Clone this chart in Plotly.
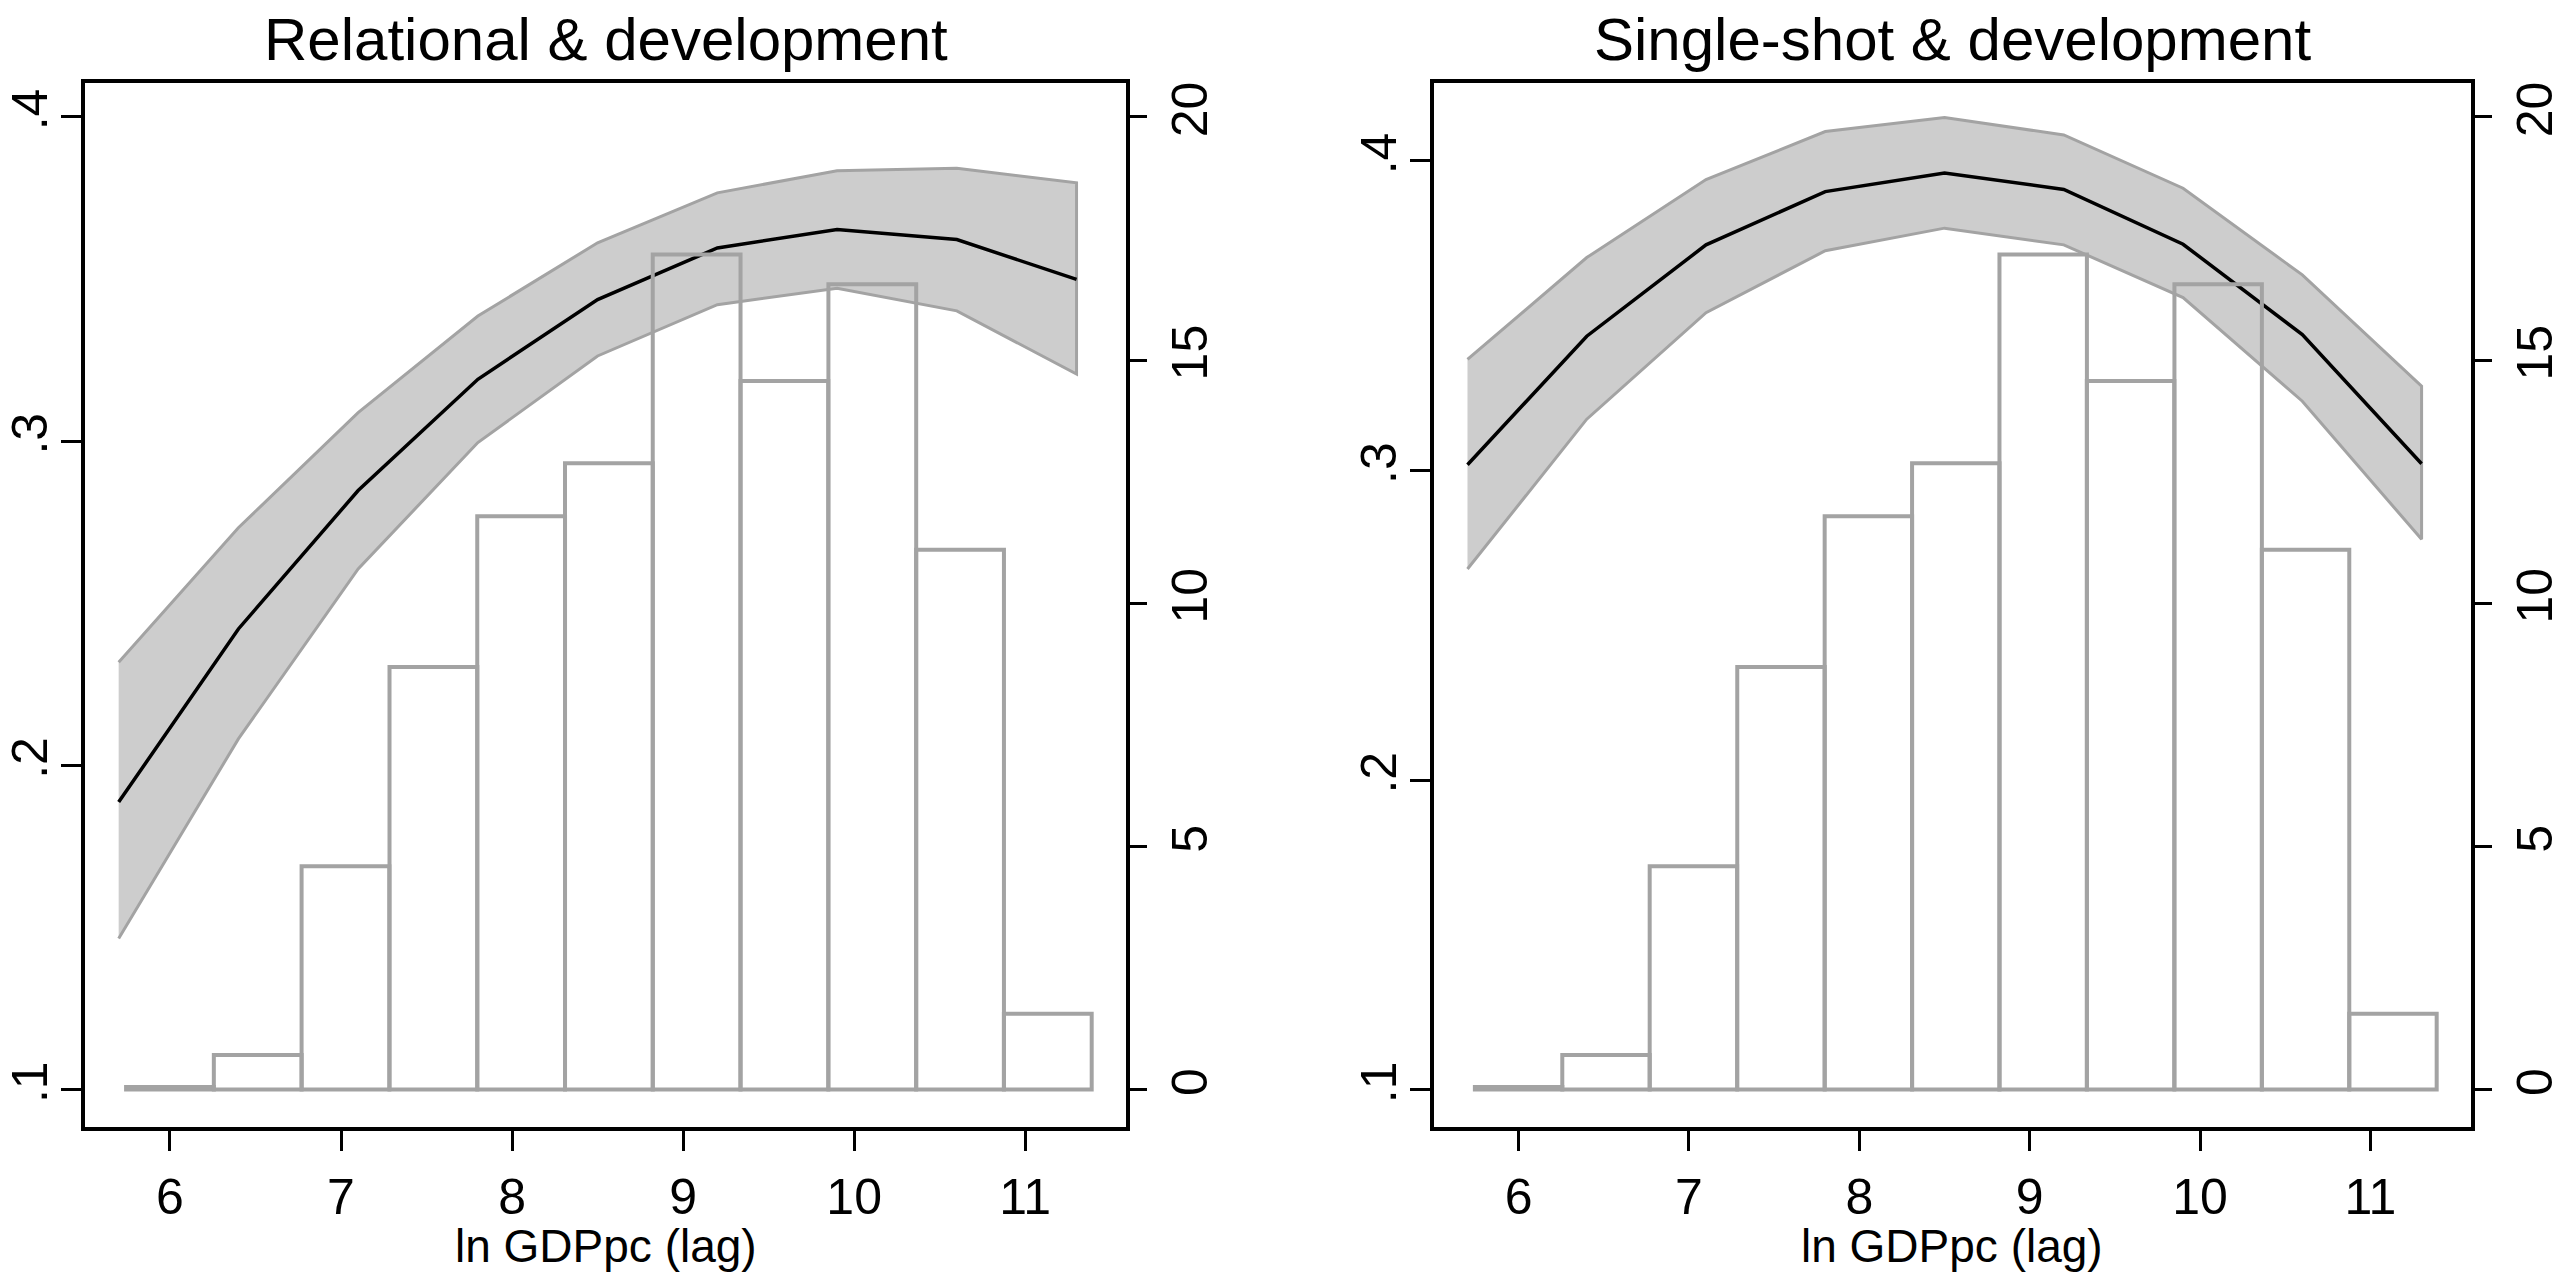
# -*- coding: utf-8 -*-

import plotly.graph_objects as go

# fitted values and 95% band, evaluated on a grid of ln GDPpc (lag)
x_fit = [5.7, 6.4, 7.1, 7.8, 8.5, 9.2, 9.9, 10.6, 11.3]

rel_fit = [0.1887, 0.2421, 0.2848, 0.3191, 0.3437, 0.3596, 0.3653, 0.3622, 0.3499]
rel_hi = [0.2318, 0.2733, 0.3088, 0.3386, 0.3612, 0.3766, 0.3834, 0.3842, 0.3797]
rel_lo = [0.1466, 0.2082, 0.2606, 0.2996, 0.3263, 0.3421, 0.3472, 0.3402, 0.3207]

ss_fit = [0.3019, 0.3434, 0.3729, 0.3901, 0.3961, 0.3908, 0.3731, 0.3439, 0.3022]
ss_hi = [0.3359, 0.3688, 0.3940, 0.4095, 0.4140, 0.4084, 0.3912, 0.3632, 0.3273]
ss_lo = [0.2682, 0.3166, 0.3510, 0.3710, 0.3783, 0.3729, 0.3559, 0.3224, 0.2778]

# histogram of ln GDPpc (percent of observations)
bin_centers = [6.000, 6.513, 7.026, 7.540, 8.053, 8.566, 9.079, 9.592, 10.106, 10.619, 11.132]
bin_width = 0.5132
hist_pct = [0.05, 0.71, 4.59, 8.69, 11.79, 12.88, 17.17, 14.57, 16.56, 11.10, 1.56]

titles = ["Relational & development", "Single-shot & development"]
x_title = "ln GDPpc (lag)"

FONT = "Liberation Sans, Arial, Helvetica, sans-serif"
BAND_FILL = "#cdcdcd"
GRAY = "#a3a3a3"
H = 1274

panels = [
    (rel_fit, rel_lo, rel_hi, [0.0885, 0.4105]),
    (ss_fit, ss_lo, ss_hi, [0.088, 0.4252]),
]

fig = go.Figure()

for p, (fit, lo, hi, yr) in enumerate(panels):
    xa = "x" if p == 0 else "x2"
    ya_left = "y" if p == 0 else "y3"
    ya_right = "y2" if p == 0 else "y4"

    # confidence band
    fig.add_trace(go.Scatter(
        x=x_fit + x_fit[::-1], y=hi + lo[::-1],
        fill="toself", fillcolor=BAND_FILL,
        line=dict(color=GRAY, width=3),
        mode="lines", hoverinfo="skip", showlegend=False,
        xaxis=xa, yaxis=ya_left))

    # fitted line
    fig.add_trace(go.Scatter(
        x=x_fit, y=fit, mode="lines",
        line=dict(color="black", width=3.5),
        showlegend=False, xaxis=xa, yaxis=ya_left))

    # histogram on the right axis
    fig.add_trace(go.Bar(
        x=bin_centers, y=hist_pct, width=[bin_width] * len(bin_centers),
        marker=dict(color="rgba(0,0,0,0)", line=dict(color=GRAY, width=4)),
        showlegend=False, xaxis=xa, yaxis=ya_right))

x_domains = [[0.0331, 0.4387], [0.5586, 0.9626]]
y_domain = [0.1154, 0.9349]

axis_font = dict(family=FONT, size=50, color="black")

common_x = dict(
    range=[5.503, 11.59], tickvals=[6, 7, 8, 9, 10, 11],
    ticks="outside", ticklen=20, tickwidth=2.5, tickcolor="black",
    showline=True, linecolor="black", linewidth=4, mirror=True,
    showgrid=False, zeroline=False, tickfont=axis_font,
    ticklabelstandoff=3, automargin=False,
)

common_yl = dict(
    tickvals=[0.1, 0.2, 0.3, 0.4], ticktext=[".1", ".2", ".3", ".4"],
    ticks="outside", ticklen=20, tickwidth=2.5, tickcolor="black",
    showline=True, linecolor="black", linewidth=4, mirror=True,
    showgrid=False, zeroline=False, tickfont=axis_font, tickangle=-90,
    ticklabelstandoff=-6, domain=y_domain, automargin=False,
)

common_yr = dict(
    range=[-0.77, 20.7], tickvals=[0, 5, 10, 15, 20],
    ticks="outside", ticklen=20, tickwidth=2.5, tickcolor="black",
    showline=False, showgrid=False, zeroline=False,
    tickfont=axis_font, tickangle=-90, side="right", automargin=False,
)

fig.update_layout(
    width=2567, height=H,
    margin=dict(l=0, r=0, t=0, b=0),
    paper_bgcolor="white", plot_bgcolor="white",
    font=dict(family=FONT, color="black"),
    barmode="overlay",
    xaxis=dict(common_x, domain=x_domains[0], anchor="y"),
    xaxis2=dict(common_x, domain=x_domains[1], anchor="y3"),
    yaxis=dict(common_yl, range=panels[0][3], anchor="x"),
    yaxis2=dict(common_yr, overlaying="y", anchor="x"),
    yaxis3=dict(common_yl, range=panels[1][3], anchor="x2"),
    yaxis4=dict(common_yr, overlaying="y3", anchor="x2"),
)

for i, t in enumerate(titles):
    cx = sum(x_domains[i]) / 2
    fig.add_annotation(
        text=t, x=cx, y=1 - 40 / H,
        xref="paper", yref="paper", xanchor="center", yanchor="middle",
        showarrow=False, font=dict(family=FONT, size=60, color="black"))
    fig.add_annotation(
        text=x_title, x=cx, y=1 - 1246 / H,
        xref="paper", yref="paper", xanchor="center", yanchor="middle",
        showarrow=False, font=dict(family=FONT, size=46, color="black"))

fig.write_html("out.html", config={"displayModeBar": False},
               post_script="document.body.style.margin='0';")
